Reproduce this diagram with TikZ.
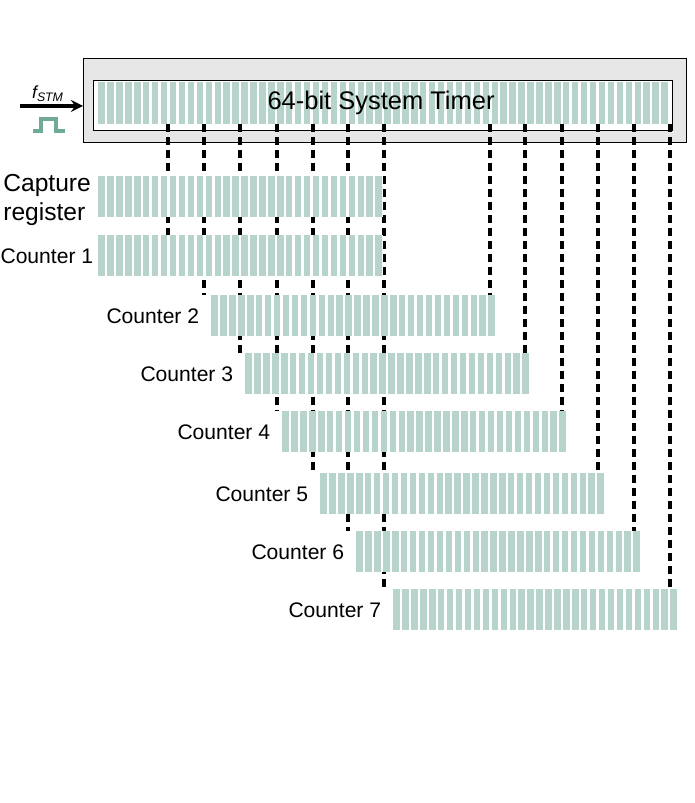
\documentclass[tikz,border=0pt]{standalone}
\usepackage{fontspec}
\setmainfont{Liberation Sans}
\usetikzlibrary{calc,positioning}

\definecolor{stmgreen}{RGB}{182,212,203}
\definecolor{stmgray}{RGB}{230,230,230}
\definecolor{pulsegreen}{RGB}{110,170,150}

\tikzset{
  bar/.style={inner sep=0pt, minimum height=0.82cm, minimum width=#1*0.17875cm,
    anchor=north west, fill=white,
    path picture={
      \foreach \i in {1,...,#1}
        \fill[stmgreen] ($(path picture bounding box.south west)+(\i*0.17875cm-0.17875cm+0.02cm,0)$)
          rectangle ($(path picture bounding box.north west)+(\i*0.17875cm-0.03cm,0)$);
    }},
  lbl/.style={font=\fontsize{12}{14}\selectfont, anchor=east, inner sep=0pt},
  tap/.style={line width=1.8pt, dash pattern=on 0.16cm off 0.1cm}
}

\begin{document}
\begin{tikzpicture}[x=0.02cm,y=-0.02cm]
  \useasboundingbox (0,0) rectangle (694,803);
  % timer block
  \node[draw, fill=stmgray, line width=0.8pt, inner sep=0pt, minimum width=12.06cm,
    minimum height=1.68cm, anchor=north west] (box) at (83,58) {};
  \node[draw, fill=white, line width=0.6pt, inner sep=0pt, minimum width=11.58cm,
    minimum height=1cm, anchor=north west] (frame) at (93,80) {};
  \node[bar=64, minimum width=11.42cm, minimum height=0.84cm] (timer) at (97,82) {};
  \node[font=\fontsize{14.5}{16}\selectfont] at (381,103) {64-bit System Timer};

  % clock input
  \draw[-stealth, line width=2pt] (20,106) -- (box.west |- 0,106);
  \node[font=\itshape\fontsize{10}{12}\selectfont] at (48,94) {f\textsubscript{STM}};
  \draw[pulsegreen, line width=2pt]
    (33,131) -- (41,131) -- (41,119) -- (56,119) -- (56,131) -- (65,131);

  % taps on the timer
  \foreach \x [count=\k] in {168,204,240,277,313,348,384,490,525,562,598,634,670}
    \coordinate (tap\k) at (\x,124);
  \draw[tap] (tap1) -- (tap1 |- 0,235);
  \draw[tap] (tap2) -- (tap2 |- 0,295);
  \draw[tap] (tap3) -- (tap3 |- 0,353);
  \draw[tap] (tap4) -- (tap4 |- 0,411);
  \draw[tap] (tap5) -- (tap5 |- 0,473);
  \draw[tap] (tap6) -- (tap6 |- 0,531);
  \draw[tap] (tap7) -- (tap7 |- 0,589);
  \draw[tap] (tap8) -- (tap8 |- 0,295);
  \draw[tap] (tap9) -- (tap9 |- 0,353);
  \draw[tap] (tap10) -- (tap10 |- 0,411);
  \draw[tap] (tap11) -- (tap11 |- 0,473);
  \draw[tap] (tap12) -- (tap12 |- 0,531);
  \draw[tap] (tap13) -- (tap13 |- 0,589);

  % capture register and counters
  \node[bar=32] (capture) at (97,176) {};
  \node[inner sep=0pt, anchor=west, align=left, font=\fontsize{14}{16}\selectfont]
    at (3,200) {Capture\\register};
  \node[bar=32] (cnt1) at (97,235) {};
  \node[lbl, left=2pt of cnt1] {Counter 1};
  \node[bar=32] (cnt2) at (210,295) {};
  \node[lbl, left=6pt of cnt2] {Counter 2};
  \node[bar=32] (cnt3) at (244,353) {};
  \node[lbl, left=6pt of cnt3] {Counter 3};
  \node[bar=32] (cnt4) at (281,411) {};
  \node[lbl, left=6pt of cnt4] {Counter 4};
  \node[bar=32] (cnt5) at (319,473) {};
  \node[lbl, left=6pt of cnt5] {Counter 5};
  \node[bar=32] (cnt6) at (355,531) {};
  \node[lbl, left=6pt of cnt6] {Counter 6};
  \node[bar=32] (cnt7) at (392,589) {};
  \node[lbl, left=6pt of cnt7] {Counter 7};
\end{tikzpicture}
\end{document}
